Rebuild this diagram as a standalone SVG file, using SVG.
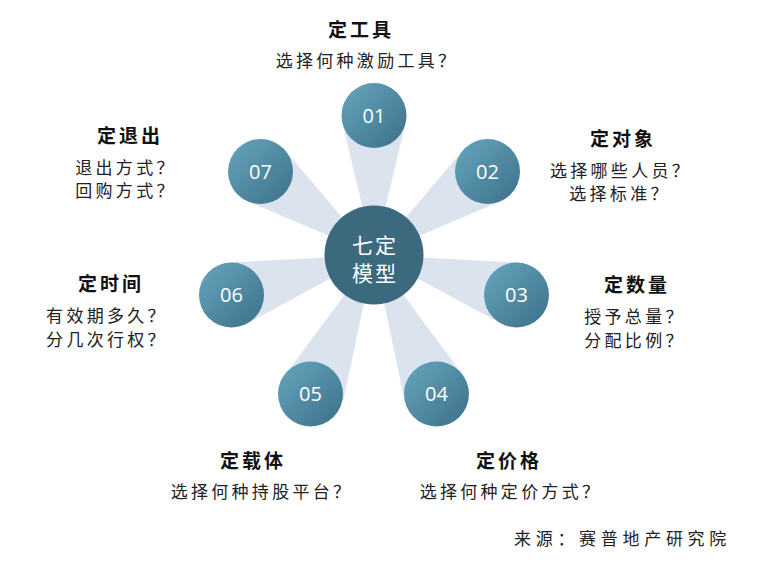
<svg xmlns="http://www.w3.org/2000/svg" width="760" height="570" viewBox="0 0 760 570">
  <defs>
    <linearGradient id="sat" x1="0" y1="0" x2="1" y2="1">
      <stop offset="0" stop-color="#66a6bd"/>
      <stop offset="1" stop-color="#3c7089"/>
    </linearGradient>
    <style>
      .beam { fill: #dbe3ee; }
      .sat { fill: url(#sat); }
      .num { font-family: "Open Sans", "Liberation Sans", sans-serif; font-size: 20px; fill: #ffffff; text-anchor: middle; }
      .core { fill: #3b6a7f; }
      .coretxt { font-family: "Noto Sans CJK SC", sans-serif; font-size: 21px; fill: #ffffff; text-anchor: middle; letter-spacing: 2px; }
      .title { font-family: "Noto Sans CJK SC", sans-serif; font-size: 19px; font-weight: bold; fill: #111111; text-anchor: middle; letter-spacing: 3px; }
      .desc { font-family: "Noto Sans CJK SC", sans-serif; font-size: 17px; fill: #222222; text-anchor: middle; letter-spacing: 3.3px; }
      .src { font-family: "Noto Sans CJK SC", sans-serif; font-size: 17px; fill: #222222; letter-spacing: 4.7px; }
    </style>
  </defs>
  <rect width="760" height="570" fill="#ffffff"/>

  <g id="connectors">
    <polygon class="beam" points="374,255 405.6,123.1 374,115.5 342.4,123.1"/>
    <polygon class="beam" points="374,255 500.2,201.4 487.5,171.5 462.7,150.5"/>
    <polygon class="beam" points="374,255 501.1,323.6 516.5,295 518.2,262.6"/>
    <polygon class="beam" points="374,255 404.7,400.7 436.5,394 462.6,374.7"/>
    <polygon class="beam" points="374,255 343.3,400.7 310.5,394 285.4,374.7"/>
    <polygon class="beam" points="374,255 246.9,323.6 231.5,295 229.8,262.6"/>
    <polygon class="beam" points="374,255 247.8,201.4 260.5,171.5 285.3,150.5"/>
  </g>

  <g id="center">
    <circle class="core" cx="374" cy="255" r="49.5"/>
    <text class="coretxt" x="375" y="253">七定</text>
    <text class="coretxt" x="375" y="281">模型</text>
  </g>

  <g id="node01">
    <circle class="sat" cx="374" cy="115.5" r="32.5"/>
    <text class="num" x="374" y="122.5">01</text>
    <text class="title" x="361" y="37">定工具</text>
    <text class="desc" x="367" y="67">选择何种激励工具？</text>
  </g>

  <g id="node02">
    <circle class="sat" cx="487.5" cy="171.5" r="32.5"/>
    <text class="num" x="487.5" y="178.5">02</text>
    <text class="title" x="623" y="146">定对象</text>
    <text class="desc" x="621" y="177">选择哪些人员？</text>
    <text class="desc" x="620" y="200">选择标准？</text>
  </g>

  <g id="node03">
    <circle class="sat" cx="516.5" cy="295" r="32.5"/>
    <text class="num" x="516.5" y="302">03</text>
    <text class="title" x="637" y="292">定数量</text>
    <text class="desc" x="635" y="323">授予总量？</text>
    <text class="desc" x="635" y="347">分配比例？</text>
  </g>

  <g id="node04">
    <circle class="sat" cx="436.5" cy="394" r="32.5"/>
    <text class="num" x="436.5" y="401">04</text>
    <text class="title" x="509" y="468">定价格</text>
    <text class="desc" x="511" y="498">选择何种定价方式？</text>
  </g>

  <g id="node05">
    <circle class="sat" cx="310.5" cy="394" r="32.5"/>
    <text class="num" x="310.5" y="401">05</text>
    <text class="title" x="253" y="468">定载体</text>
    <text class="desc" x="262" y="498">选择何种持股平台？</text>
  </g>

  <g id="node06">
    <circle class="sat" cx="231.5" cy="295" r="32.5"/>
    <text class="num" x="231.5" y="302">06</text>
    <text class="title" x="111" y="291">定时间</text>
    <text class="desc" x="107" y="322">有效期多久？</text>
    <text class="desc" x="107" y="346">分几次行权？</text>
  </g>

  <g id="node07">
    <circle class="sat" cx="260.5" cy="171.5" r="32.5"/>
    <text class="num" x="260.5" y="178.5">07</text>
    <text class="title" x="130" y="143">定退出</text>
    <text class="desc" x="126" y="174">退出方式？</text>
    <text class="desc" x="126" y="197">回购方式？</text>
  </g>

  <text class="src" x="514" y="545">来源：赛普地产研究院</text>
</svg>
